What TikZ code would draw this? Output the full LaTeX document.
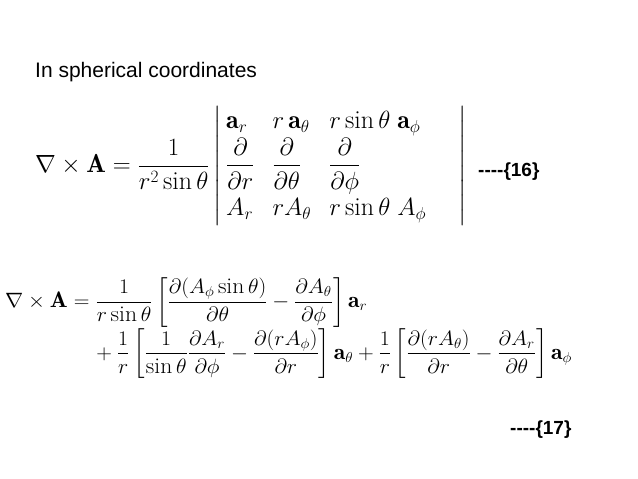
\documentclass[tikz,border=0pt]{standalone}
\usepackage{amsmath}
\usepackage{fontspec}
\newfontfamily\arial{Liberation Sans}
\tikzset{lbl/.style={anchor=west,inner sep=0pt,font=\arial\fontsize{21}{24}\selectfont},
tag/.style={anchor=west,inner sep=0pt,font=\arial\bfseries\fontsize{19}{22}\selectfont},
eq/.style={anchor=west,inner sep=0pt,font=\fontsize{26}{31}\selectfont}}
\begin{document}
\begin{tikzpicture}[x=1pt,y=-1pt]
\useasboundingbox (0,0) rectangle (638,479);
\node[lbl] (t) at (35,72) {In spherical coordinates};
\node[eq] (e16) at (35,166) {$\nabla\times\mathbf{A}=\dfrac{1}{r^2\sin\theta}\left|\setlength{\arraycolsep}{9pt}\begin{array}{@{\,}lll@{\quad\;}}
\mathbf{a}_r & r\,\mathbf{a}_\theta & r\sin\theta\;\mathbf{a}_\phi\\[0pt]
\dfrac{\partial}{\partial r} & \dfrac{\partial}{\partial\theta} & \dfrac{\partial}{\partial\phi}\\[2pt]
A_r & rA_\theta & r\sin\theta\;A_\phi
\end{array}\right|$};
\node[tag] (g16) at (478,172) {-{}-{}-{}-\{16\}};
\node[eq,font=\fontsize{22.5}{28}\selectfont,transform shape,xscale=1.05] (e17) at (5,328) {$\begin{aligned}\nabla\times\mathbf{A}&=\frac{1}{r\sin\theta}\left[\frac{\partial(A_\phi\sin\theta)}{\partial\theta}-\frac{\partial A_\theta}{\partial\phi}\right]\mathbf{a}_r\\[-2pt]
&\quad+\frac1r\left[\frac{1}{\sin\theta}\frac{\partial A_r}{\partial\phi}-\frac{\partial(rA_\phi)}{\partial r}\right]\mathbf{a}_\theta+\frac1r\left[\frac{\partial(rA_\theta)}{\partial r}-\frac{\partial A_r}{\partial\theta}\right]\mathbf{a}_\phi\end{aligned}$};
\node[tag] (g17) at (510,430) {-{}-{}-{}-\{17\}};
\end{tikzpicture}
\end{document}
